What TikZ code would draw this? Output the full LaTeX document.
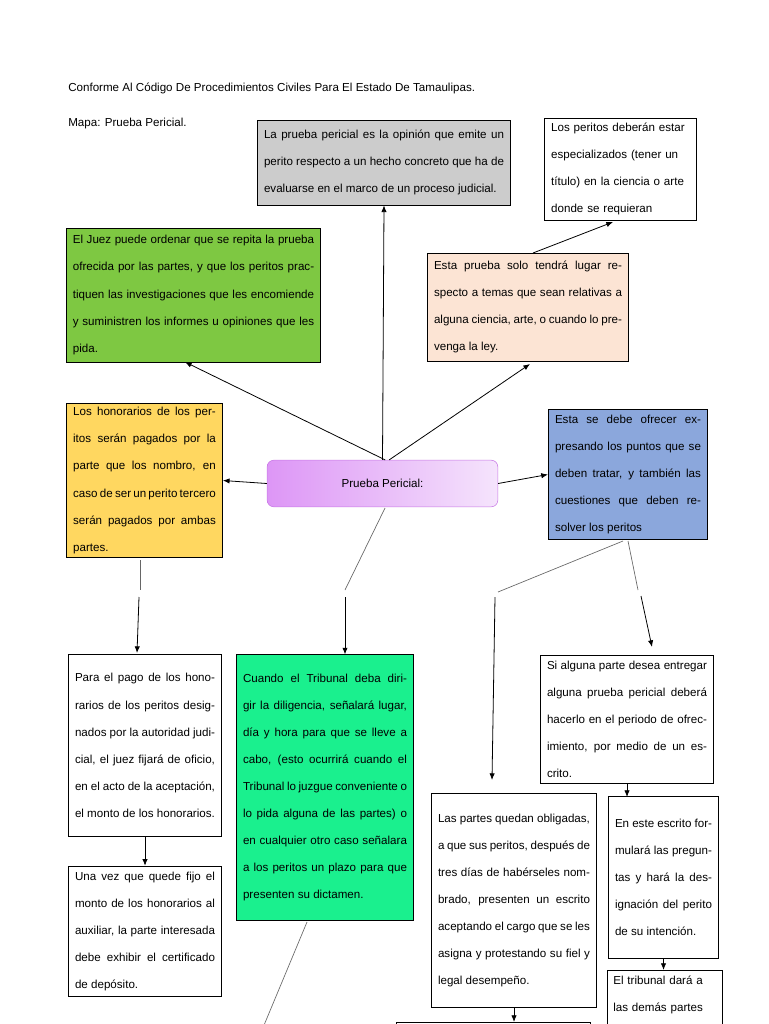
\documentclass[tikz,border=0pt]{standalone}
\usepackage{fontspec}
\setmainfont{Liberation Sans}
\usetikzlibrary{arrows.meta}
\newcommand\nohyph{\hyphenpenalty=10000\relax\exhyphenpenalty=10000\relax\emergencystretch=3em\relax}
\begin{document}
\begin{tikzpicture}[x=0.75pt,y=-0.75pt,
  box/.style={draw=black,line width=0.6pt,inner xsep=5pt,inner ysep=2pt,align=justify,
    font=\fontsize{8.7}{20.3}\selectfont},
  arr/.style={-{Latex[length=5pt,width=4pt]},line width=0.6pt},
  seg/.style={draw=gray!80!black,line width=0.5pt}]
\useasboundingbox (0,0) rectangle (768,1024);
\fill[white] (0,0) rectangle (768,1024);
\node[anchor=base west,inner sep=0pt,font=\fontsize{8.7}{10}\selectfont] (t1) at (68,92) {Conforme Al Código De Procedimientos Civiles Para El Estado De Tamaulipas.};
\node[anchor=base west,inner sep=0pt,font=\fontsize{8.7}{10}\selectfont] (t2) at (68,126) {Mapa: Prueba Pericial.};

\node[box,fill=black!20,text width=180pt,minimum height=63.75pt] (gray) at (384,162.5)
{\nohyph La prueba pericial es la opinión que emite un perito respecto a un hecho concreto que ha de evaluarse en el marco de un proceso judicial.};
\node[box,fill=white,text width=104pt,minimum height=76.5pt,align=left] (tr) at (620.5,169)
{\nohyph Los peritos deberán estar especializados (tener un título) en la ciencia o arte donde se requieran};
\node[box,fill={rgb,255:red,126;green,200;blue,66},text width=181pt,minimum height=100.5pt] (green) at (193.5,295)
{\nohyph El Juez puede ordenar que se repita la prueba ofrecida por las partes, y que los peritos practiquen las investigaciones que les encomiende y suministren los informes u opiniones que les pida.};
\node[box,fill={rgb,255:red,252;green,228;blue,212},text width=141pt,minimum height=81pt] (peach) at (528,307)
{\nohyph Esta prueba solo tendrá lugar respecto a temas que sean relativas a alguna ciencia, arte, o cuando lo prevenga la ley.};
\node[box,fill={rgb,255:red,255;green,215;blue,96},text width=107pt,minimum height=115pt] (yellow) at (144.5,480.5)
{\nohyph Los honorarios de los peritos serán pagados por la parte que los nombro, en caso de ser un perito tercero serán pagados por ambas partes.};
\node[draw={rgb,255:red,200;green,120;blue,230},rounded corners=5pt,minimum width=173pt,minimum height=35pt,
  left color={rgb,255:red,221;green,150;blue,246},right color={rgb,255:red,245;green,228;blue,252},
  font=\fontsize{8.7}{10}\selectfont] (pink) at (382.5,483.5) {Prueba Pericial:};
\node[box,fill={rgb,255:red,139;green,167;blue,220},text width=109.5pt,minimum height=98pt] (blue) at (628,474.5)
{\nohyph Esta se debe ofrecer expresando los puntos que se deben tratar, y también las cuestiones que deben resolver los peritos};
\node[box,fill=white,text width=105pt,minimum height=136pt] (w1) at (145,745.5)
{\nohyph Para el pago de los honorarios de los peritos designados por la autoridad judicial, el juez fijará de oficio, en el acto de la aceptación, el monto de los honorarios.};
\node[box,fill={rgb,255:red,26;green,240;blue,142},text width=123pt,minimum height=199pt] (green2) at (325,787.5)
{\nohyph Cuando el Tribunal deba dirigir la diligencia, señalará lugar, día y hora para que se lleve a cabo, (esto ocurrirá cuando el Tribunal lo juzgue conveniente o lo pida alguna de las partes) o en cualquier otro caso señalara a los peritos un plazo para que presenten su dictamen.};
\node[box,fill=white,text width=120pt,minimum height=96pt] (w2) at (627,719)
{\nohyph Si alguna parte desea entregar alguna prueba pericial deberá hacerlo en el periodo de ofrecimiento, por medio de un escrito.};
\node[box,fill=white,text width=105pt,minimum height=98pt] (w3) at (145,931.5)
{\nohyph Una vez que quede fijo el monto de los honorarios al auxiliar, la parte interesada debe exhibir el certificado de depósito.};
\node[box,fill=white,text width=114pt,minimum height=161pt] (w4) at (514,900.5)
{\nohyph Las partes quedan obligadas, a que sus peritos, después de tres días de habérseles nombrado, presenten un escrito aceptando el cargo que se les asigna y protestando su fiel y legal desempeño.};
\node[box,fill=white,text width=72.75pt,minimum height=121pt] (w5) at (663.5,877.5)
{\nohyph En este escrito formulará las preguntas y hará la designación del perito de su intención.};
\node[draw,fill=white,line width=0.6pt,minimum width=86.25pt,minimum height=60pt,anchor=north] (w6) at (664.5,970) {};
\node[anchor=north west,inner sep=0pt,text width=75.75pt,align=left,font=\fontsize{8.7}{20.3}\selectfont] (w6t) at (613,976)
{\makebox[75.75pt][s]{El tribunal dará a}\\\makebox[75.75pt][s]{las demás partes}};
\node[draw,fill=white,line width=0.6pt,minimum width=145.5pt,minimum height=40pt,anchor=north] (w7) at (493,1022) {};

\coordinate (c1) at (345,590); \coordinate (c2) at (345,597);
\coordinate (c3) at (140,590); \coordinate (c4) at (139,597);
\coordinate (c5) at (498,592); \coordinate (c6) at (495,597);
\coordinate (c7) at (638,590); \coordinate (c8) at (641,596);
\coordinate (c9) at (262,1030);
\coordinate (c10) at (627,783); \coordinate (c11) at (627,797);

\draw[arr] (pink.north) -- (gray.south);
\draw[arr] ([xshift=2pt]pink.north) -- (185,362);
\draw[arr] ([xshift=5pt]pink.north) -- (530,364);
\draw[arr] (533,253) -- (613,222);
\draw[arr] (pink.west) -- (yellow.east);
\draw[arr] (pink.east) -- (blue.west);
\draw[seg] (385,508) -- (c1); \draw[arr] (c2) -- (c2 |- green2.north);
\draw[seg] (140,560) -- (c3); \draw[arr] (c4) -- (137,653);
\draw[seg] (623,541) -- (c5); \draw[arr] (c6) -- (492,780);
\draw[seg] (628,541) -- (c7); \draw[arr] (c8) -- (652,647);
\draw[arr] (w1.south) -- (w3.north);
\draw[arr] (c10) -- (c11);
\draw[arr] (w4.south) -- (w4.south |- w7.north);
\draw[arr] (w5.south) -- (w5.south |- w6.north);
\draw[seg] (307,922) -- (c9);
\end{tikzpicture}
\end{document}
